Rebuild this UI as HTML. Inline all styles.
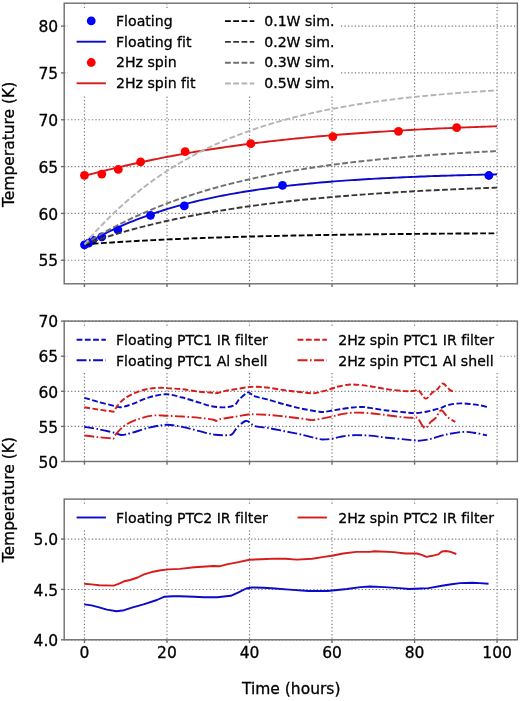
<!DOCTYPE html>
<html><head><meta charset="utf-8"><title>Temperature vs time</title>
<style>html,body{margin:0;padding:0;background:#fff;}svg{display:block;}</style>
</head><body>
<svg width="520" height="701" viewBox="0 0 520 701" font-family="'DejaVu Sans', 'Liberation Sans', sans-serif">
<style>text{fill:#000;stroke:#000;stroke-width:0.3px;font-variant-ligatures:none;font-feature-settings:"liga" 0;}</style>
<rect width="520" height="701" fill="#ffffff"/>
<line x1="84.46" y1="3.2" x2="84.46" y2="283.8" stroke="#7a7a7a" stroke-width="1.15" stroke-dasharray="1.25 2.21"/>
<line x1="166.99" y1="3.2" x2="166.99" y2="283.8" stroke="#7a7a7a" stroke-width="1.15" stroke-dasharray="1.25 2.21"/>
<line x1="249.52" y1="3.2" x2="249.52" y2="283.8" stroke="#7a7a7a" stroke-width="1.15" stroke-dasharray="1.25 2.21"/>
<line x1="332.04" y1="3.2" x2="332.04" y2="283.8" stroke="#7a7a7a" stroke-width="1.15" stroke-dasharray="1.25 2.21"/>
<line x1="414.57" y1="3.2" x2="414.57" y2="283.8" stroke="#7a7a7a" stroke-width="1.15" stroke-dasharray="1.25 2.21"/>
<line x1="497.1" y1="3.2" x2="497.1" y2="283.8" stroke="#7a7a7a" stroke-width="1.15" stroke-dasharray="1.25 2.21"/>
<line x1="64.2" y1="260.27" x2="517.4" y2="260.27" stroke="#7a7a7a" stroke-width="1.15" stroke-dasharray="1.25 2.21"/>
<line x1="64.2" y1="213.43" x2="517.4" y2="213.43" stroke="#7a7a7a" stroke-width="1.15" stroke-dasharray="1.25 2.21"/>
<line x1="64.2" y1="166.6" x2="517.4" y2="166.6" stroke="#7a7a7a" stroke-width="1.15" stroke-dasharray="1.25 2.21"/>
<line x1="64.2" y1="119.76" x2="517.4" y2="119.76" stroke="#7a7a7a" stroke-width="1.15" stroke-dasharray="1.25 2.21"/>
<line x1="64.2" y1="72.92" x2="517.4" y2="72.92" stroke="#7a7a7a" stroke-width="1.15" stroke-dasharray="1.25 2.21"/>
<line x1="64.2" y1="26.09" x2="517.4" y2="26.09" stroke="#7a7a7a" stroke-width="1.15" stroke-dasharray="1.25 2.21"/>
<path d="M84.46,244.8 L87.93,242.77 L91.4,240.81 L94.86,238.89 L98.33,237.03 L101.8,235.22 L105.27,233.46 L108.73,231.75 L112.2,230.09 L115.67,228.47 L119.14,226.9 L122.6,225.37 L126.07,223.88 L129.54,222.44 L133.01,221.03 L136.47,219.67 L139.94,218.34 L143.41,217.05 L146.88,215.79 L150.34,214.57 L153.81,213.38 L157.28,212.23 L160.75,211.11 L164.21,210.02 L167.68,208.96 L171.15,207.93 L174.62,206.92 L178.08,205.95 L181.55,205 L185.02,204.08 L188.49,203.19 L191.95,202.31 L195.42,201.47 L198.89,200.64 L202.36,199.84 L205.82,199.07 L209.29,198.31 L212.76,197.57 L216.23,196.86 L219.69,196.16 L223.16,195.49 L226.63,194.83 L230.1,194.19 L233.57,193.57 L237.03,192.97 L240.5,192.38 L243.97,191.81 L247.44,191.25 L250.9,190.71 L254.37,190.19 L257.84,189.68 L261.31,189.18 L264.77,188.7 L268.24,188.23 L271.71,187.77 L275.18,187.33 L278.64,186.9 L282.11,186.48 L285.58,186.07 L289.05,185.68 L292.51,185.29 L295.98,184.92 L299.45,184.55 L302.92,184.2 L306.38,183.86 L309.85,183.52 L313.32,183.2 L316.79,182.88 L320.25,182.57 L323.72,182.27 L327.19,181.98 L330.66,181.7 L334.12,181.42 L337.59,181.16 L341.06,180.9 L344.53,180.64 L347.99,180.4 L351.46,180.16 L354.93,179.93 L358.4,179.7 L361.87,179.48 L365.33,179.27 L368.8,179.06 L372.27,178.86 L375.74,178.67 L379.2,178.47 L382.67,178.29 L386.14,178.11 L389.61,177.93 L393.07,177.76 L396.54,177.6 L400.01,177.44 L403.48,177.28 L406.94,177.13 L410.41,176.98 L413.88,176.84 L417.35,176.7 L420.81,176.56 L424.28,176.43 L427.75,176.3 L431.22,176.17 L434.68,176.05 L438.15,175.93 L441.62,175.82 L445.09,175.71 L448.55,175.6 L452.02,175.49 L455.49,175.39 L458.96,175.29 L462.42,175.19 L465.89,175.1 L469.36,175.01 L472.83,174.92 L476.29,174.83 L479.76,174.75 L483.23,174.67 L486.7,174.59 L490.16,174.51 L493.63,174.43 L497.1,174.36" fill="none" stroke="#0a0ac8" stroke-width="1.9" stroke-linejoin="round" stroke-linecap="butt"/>
<path d="M84.46,175.7 L87.93,174.87 L91.4,174.01 L94.86,173.14 L98.33,172.26 L101.8,171.39 L105.27,170.53 L108.73,169.68 L112.2,168.83 L115.67,168 L119.14,167.17 L122.6,166.36 L126.07,165.55 L129.54,164.76 L133.01,163.98 L136.47,163.21 L139.94,162.45 L143.41,161.7 L146.88,160.96 L150.34,160.24 L153.81,159.52 L157.28,158.82 L160.75,158.12 L164.21,157.44 L167.68,156.77 L171.15,156.11 L174.62,155.46 L178.08,154.83 L181.55,154.2 L185.02,153.58 L188.49,152.97 L191.95,152.38 L195.42,151.79 L198.89,151.21 L202.36,150.64 L205.82,150.09 L209.29,149.54 L212.76,149 L216.23,148.47 L219.69,147.95 L223.16,147.44 L226.63,146.93 L230.1,146.44 L233.57,145.96 L237.03,145.48 L240.5,145.01 L243.97,144.55 L247.44,144.1 L250.9,143.65 L254.37,143.22 L257.84,142.79 L261.31,142.37 L264.77,141.95 L268.24,141.55 L271.71,141.15 L275.18,140.76 L278.64,140.37 L282.11,140 L285.58,139.62 L289.05,139.26 L292.51,138.9 L295.98,138.55 L299.45,138.21 L302.92,137.87 L306.38,137.54 L309.85,137.21 L313.32,136.89 L316.79,136.57 L320.25,136.26 L323.72,135.96 L327.19,135.66 L330.66,135.37 L334.12,135.08 L337.59,134.8 L341.06,134.53 L344.53,134.26 L347.99,133.99 L351.46,133.73 L354.93,133.47 L358.4,133.22 L361.87,132.97 L365.33,132.73 L368.8,132.49 L372.27,132.26 L375.74,132.03 L379.2,131.8 L382.67,131.58 L386.14,131.37 L389.61,131.15 L393.07,130.94 L396.54,130.74 L400.01,130.54 L403.48,130.34 L406.94,130.15 L410.41,129.96 L413.88,129.77 L417.35,129.59 L420.81,129.41 L424.28,129.23 L427.75,129.06 L431.22,128.89 L434.68,128.72 L438.15,128.56 L441.62,128.4 L445.09,128.24 L448.55,128.09 L452.02,127.94 L455.49,127.79 L458.96,127.64 L462.42,127.5 L465.89,127.36 L469.36,127.22 L472.83,127.09 L476.29,126.96 L479.76,126.83 L483.23,126.7 L486.7,126.58 L490.16,126.45 L493.63,126.33 L497.1,126.21" fill="none" stroke="#d81a1a" stroke-width="1.9" stroke-linejoin="round" stroke-linecap="butt"/>
<circle cx="84.46" cy="244.81" r="4.4" fill="#0000ff"/>
<circle cx="88.59" cy="243.22" r="4.4" fill="#0000ff"/>
<circle cx="92.71" cy="240.13" r="4.4" fill="#0000ff"/>
<circle cx="101.79" cy="236.85" r="4.4" fill="#0000ff"/>
<circle cx="117.88" cy="229.82" r="4.4" fill="#0000ff"/>
<circle cx="150.48" cy="215.3" r="4.4" fill="#0000ff"/>
<circle cx="184.32" cy="205.94" r="4.4" fill="#0000ff"/>
<circle cx="282.53" cy="185.33" r="4.4" fill="#0000ff"/>
<circle cx="488.85" cy="175.49" r="4.4" fill="#0000ff"/>
<circle cx="84.46" cy="175.31" r="4.4" fill="#ff0000"/>
<circle cx="101.79" cy="174.09" r="4.4" fill="#ff0000"/>
<circle cx="118.3" cy="169.41" r="4.4" fill="#ff0000"/>
<circle cx="140.58" cy="161.91" r="4.4" fill="#ff0000"/>
<circle cx="185.14" cy="151.61" r="4.4" fill="#ff0000"/>
<circle cx="250.75" cy="143.65" r="4.4" fill="#ff0000"/>
<circle cx="332.87" cy="136.62" r="4.4" fill="#ff0000"/>
<circle cx="398.48" cy="131.28" r="4.4" fill="#ff0000"/>
<circle cx="456.66" cy="127.72" r="4.4" fill="#ff0000"/>
<path d="M84.46,244.4 L87.93,244.13 L91.4,243.87 L94.86,243.62 L98.33,243.37 L101.8,243.13 L105.27,242.89 L108.73,242.66 L112.2,242.43 L115.67,242.21 L119.14,242 L122.6,241.78 L126.07,241.58 L129.54,241.37 L133.01,241.18 L136.47,240.98 L139.94,240.79 L143.41,240.61 L146.88,240.43 L150.34,240.25 L153.81,240.08 L157.28,239.91 L160.75,239.74 L164.21,239.58 L167.68,239.42 L171.15,239.27 L174.62,239.12 L178.08,238.97 L181.55,238.83 L185.02,238.69 L188.49,238.55 L191.95,238.41 L195.42,238.28 L198.89,238.15 L202.36,238.03 L205.82,237.9 L209.29,237.78 L212.76,237.66 L216.23,237.55 L219.69,237.44 L223.16,237.33 L226.63,237.22 L230.1,237.11 L233.57,237.01 L237.03,236.91 L240.5,236.81 L243.97,236.72 L247.44,236.62 L250.9,236.53 L254.37,236.44 L257.84,236.35 L261.31,236.27 L264.77,236.18 L268.24,236.1 L271.71,236.02 L275.18,235.94 L278.64,235.87 L282.11,235.79 L285.58,235.72 L289.05,235.65 L292.51,235.57 L295.98,235.51 L299.45,235.44 L302.92,235.37 L306.38,235.31 L309.85,235.25 L313.32,235.19 L316.79,235.13 L320.25,235.07 L323.72,235.01 L327.19,234.95 L330.66,234.9 L334.12,234.85 L337.59,234.79 L341.06,234.74 L344.53,234.69 L347.99,234.64 L351.46,234.6 L354.93,234.55 L358.4,234.5 L361.87,234.46 L365.33,234.42 L368.8,234.37 L372.27,234.33 L375.74,234.29 L379.2,234.25 L382.67,234.21 L386.14,234.17 L389.61,234.14 L393.07,234.1 L396.54,234.06 L400.01,234.03 L403.48,233.99 L406.94,233.96 L410.41,233.93 L413.88,233.9 L417.35,233.87 L420.81,233.84 L424.28,233.81 L427.75,233.78 L431.22,233.75 L434.68,233.72 L438.15,233.69 L441.62,233.67 L445.09,233.64 L448.55,233.62 L452.02,233.59 L455.49,233.57 L458.96,233.54 L462.42,233.52 L465.89,233.5 L469.36,233.47 L472.83,233.45 L476.29,233.43 L479.76,233.41 L483.23,233.39 L486.7,233.37 L490.16,233.35 L493.63,233.33 L497.1,233.31" fill="none" stroke="#000000" stroke-width="1.9" stroke-dasharray="5.8 2.45" stroke-linejoin="round" stroke-linecap="butt"/>
<path d="M84.46,244.37 L87.93,243.15 L91.4,241.95 L94.86,240.78 L98.33,239.63 L101.8,238.5 L105.27,237.39 L108.73,236.31 L112.2,235.24 L115.67,234.2 L119.14,233.18 L122.6,232.17 L126.07,231.19 L129.54,230.22 L133.01,229.28 L136.47,228.35 L139.94,227.44 L143.41,226.55 L146.88,225.67 L150.34,224.82 L153.81,223.98 L157.28,223.15 L160.75,222.34 L164.21,221.55 L167.68,220.77 L171.15,220.01 L174.62,219.26 L178.08,218.53 L181.55,217.81 L185.02,217.11 L188.49,216.42 L191.95,215.74 L195.42,215.08 L198.89,214.42 L202.36,213.79 L205.82,213.16 L209.29,212.54 L212.76,211.94 L216.23,211.35 L219.69,210.77 L223.16,210.21 L226.63,209.65 L230.1,209.1 L233.57,208.57 L237.03,208.04 L240.5,207.53 L243.97,207.02 L247.44,206.53 L250.9,206.04 L254.37,205.57 L257.84,205.1 L261.31,204.64 L264.77,204.19 L268.24,203.75 L271.71,203.32 L275.18,202.9 L278.64,202.49 L282.11,202.08 L285.58,201.68 L289.05,201.29 L292.51,200.91 L295.98,200.53 L299.45,200.16 L302.92,199.8 L306.38,199.44 L309.85,199.1 L313.32,198.76 L316.79,198.42 L320.25,198.09 L323.72,197.77 L327.19,197.46 L330.66,197.15 L334.12,196.85 L337.59,196.55 L341.06,196.26 L344.53,195.97 L347.99,195.69 L351.46,195.42 L354.93,195.15 L358.4,194.88 L361.87,194.63 L365.33,194.37 L368.8,194.12 L372.27,193.88 L375.74,193.64 L379.2,193.4 L382.67,193.17 L386.14,192.95 L389.61,192.73 L393.07,192.51 L396.54,192.3 L400.01,192.09 L403.48,191.88 L406.94,191.68 L410.41,191.49 L413.88,191.29 L417.35,191.1 L420.81,190.92 L424.28,190.74 L427.75,190.56 L431.22,190.38 L434.68,190.21 L438.15,190.04 L441.62,189.88 L445.09,189.72 L448.55,189.56 L452.02,189.4 L455.49,189.25 L458.96,189.1 L462.42,188.96 L465.89,188.81 L469.36,188.67 L472.83,188.53 L476.29,188.4 L479.76,188.26 L483.23,188.13 L486.7,188.01 L490.16,187.88 L493.63,187.76 L497.1,187.64" fill="none" stroke="#363636" stroke-width="1.9" stroke-dasharray="5.8 2.45" stroke-linejoin="round" stroke-linecap="butt"/>
<path d="M84.46,244.15 L87.93,241.99 L91.4,239.87 L94.86,237.79 L98.33,235.76 L101.8,233.78 L105.27,231.83 L108.73,229.93 L112.2,228.07 L115.67,226.25 L119.14,224.47 L122.6,222.73 L126.07,221.02 L129.54,219.35 L133.01,217.72 L136.47,216.12 L139.94,214.56 L143.41,213.03 L146.88,211.54 L150.34,210.07 L153.81,208.64 L157.28,207.24 L160.75,205.87 L164.21,204.52 L167.68,203.21 L171.15,201.93 L174.62,200.67 L178.08,199.44 L181.55,198.24 L185.02,197.06 L188.49,195.91 L191.95,194.78 L195.42,193.68 L198.89,192.6 L202.36,191.54 L205.82,190.51 L209.29,189.5 L212.76,188.51 L216.23,187.54 L219.69,186.59 L223.16,185.67 L226.63,184.76 L230.1,183.87 L233.57,183 L237.03,182.15 L240.5,181.32 L243.97,180.51 L247.44,179.72 L250.9,178.94 L254.37,178.17 L257.84,177.43 L261.31,176.7 L264.77,175.99 L268.24,175.29 L271.71,174.61 L275.18,173.94 L278.64,173.28 L282.11,172.64 L285.58,172.02 L289.05,171.4 L292.51,170.8 L295.98,170.22 L299.45,169.64 L302.92,169.08 L306.38,168.53 L309.85,168 L313.32,167.47 L316.79,166.96 L320.25,166.45 L323.72,165.96 L327.19,165.48 L330.66,165.01 L334.12,164.54 L337.59,164.09 L341.06,163.65 L344.53,163.22 L347.99,162.79 L351.46,162.38 L354.93,161.98 L358.4,161.58 L361.87,161.19 L365.33,160.81 L368.8,160.44 L372.27,160.08 L375.74,159.72 L379.2,159.37 L382.67,159.03 L386.14,158.7 L389.61,158.38 L393.07,158.06 L396.54,157.74 L400.01,157.44 L403.48,157.14 L406.94,156.85 L410.41,156.56 L413.88,156.28 L417.35,156.01 L420.81,155.74 L424.28,155.48 L427.75,155.22 L431.22,154.97 L434.68,154.73 L438.15,154.49 L441.62,154.25 L445.09,154.02 L448.55,153.8 L452.02,153.58 L455.49,153.36 L458.96,153.15 L462.42,152.94 L465.89,152.74 L469.36,152.55 L472.83,152.35 L476.29,152.16 L479.76,151.98 L483.23,151.8 L486.7,151.62 L490.16,151.45 L493.63,151.28 L497.1,151.11" fill="none" stroke="#707070" stroke-width="1.9" stroke-dasharray="5.8 2.45" stroke-linejoin="round" stroke-linecap="butt"/>
<path d="M84.46,244.34 L87.93,240.28 L91.4,236.33 L94.86,232.47 L98.33,228.71 L101.8,225.04 L105.27,221.47 L108.73,217.99 L112.2,214.59 L115.67,211.28 L119.14,208.05 L122.6,204.9 L126.07,201.83 L129.54,198.84 L133.01,195.92 L136.47,193.08 L139.94,190.31 L143.41,187.6 L146.88,184.97 L150.34,182.4 L153.81,179.89 L157.28,177.45 L160.75,175.07 L164.21,172.75 L167.68,170.49 L171.15,168.28 L174.62,166.13 L178.08,164.03 L181.55,161.99 L185.02,160 L188.49,158.05 L191.95,156.16 L195.42,154.31 L198.89,152.51 L202.36,150.76 L205.82,149.04 L209.29,147.38 L212.76,145.75 L216.23,144.16 L219.69,142.62 L223.16,141.11 L226.63,139.64 L230.1,138.21 L233.57,136.81 L237.03,135.45 L240.5,134.12 L243.97,132.83 L247.44,131.56 L250.9,130.33 L254.37,129.13 L257.84,127.96 L261.31,126.82 L264.77,125.71 L268.24,124.63 L271.71,123.57 L275.18,122.54 L278.64,121.54 L282.11,120.56 L285.58,119.61 L289.05,118.67 L292.51,117.77 L295.98,116.88 L299.45,116.02 L302.92,115.18 L306.38,114.36 L309.85,113.56 L313.32,112.78 L316.79,112.02 L320.25,111.28 L323.72,110.56 L327.19,109.86 L330.66,109.17 L334.12,108.5 L337.59,107.85 L341.06,107.21 L344.53,106.59 L347.99,105.99 L351.46,105.4 L354.93,104.83 L358.4,104.27 L361.87,103.72 L365.33,103.19 L368.8,102.67 L372.27,102.16 L375.74,101.67 L379.2,101.19 L382.67,100.72 L386.14,100.26 L389.61,99.82 L393.07,99.38 L396.54,98.96 L400.01,98.55 L403.48,98.14 L406.94,97.75 L410.41,97.37 L413.88,97 L417.35,96.63 L420.81,96.28 L424.28,95.93 L427.75,95.59 L431.22,95.27 L434.68,94.95 L438.15,94.63 L441.62,94.33 L445.09,94.03 L448.55,93.74 L452.02,93.46 L455.49,93.19 L458.96,92.92 L462.42,92.66 L465.89,92.4 L469.36,92.15 L472.83,91.91 L476.29,91.67 L479.76,91.44 L483.23,91.22 L486.7,91 L490.16,90.79 L493.63,90.58 L497.1,90.38" fill="none" stroke="#b4b4b4" stroke-width="1.9" stroke-dasharray="5.8 2.45" stroke-linejoin="round" stroke-linecap="butt"/>
<rect x="68" y="9" width="272" height="87" fill="#fff"/>
<circle cx="91.25" cy="20.9" r="4.4" fill="#0000ff"/>
<path d="M76.6,41.7 L105.9,41.7" fill="none" stroke="#0a0ac8" stroke-width="1.9" stroke-linejoin="round" stroke-linecap="butt"/>
<circle cx="91.25" cy="62.5" r="4.4" fill="#ff0000"/>
<path d="M76.6,83.3 L105.9,83.3" fill="none" stroke="#d81a1a" stroke-width="1.9" stroke-linejoin="round" stroke-linecap="butt"/>
<text x="116.0" y="25.7" font-size="14.1">Floating</text>
<text x="116.0" y="46.5" font-size="14.1">Floating fit</text>
<text x="116.0" y="67.3" font-size="14.1">2Hz spin</text>
<text x="116.0" y="88.1" font-size="14.1">2Hz spin fit</text>
<path d="M225,21.1 L254.3,21.1" fill="none" stroke="#000000" stroke-width="1.9" stroke-dasharray="5.8 2.45" stroke-linejoin="round" stroke-linecap="butt"/>
<text x="264.2" y="25.7" font-size="14.1">0.1W sim.</text>
<path d="M225,41.9 L254.3,41.9" fill="none" stroke="#363636" stroke-width="1.9" stroke-dasharray="5.8 2.45" stroke-linejoin="round" stroke-linecap="butt"/>
<text x="264.2" y="46.5" font-size="14.1">0.2W sim.</text>
<path d="M225,62.7 L254.3,62.7" fill="none" stroke="#707070" stroke-width="1.9" stroke-dasharray="5.8 2.45" stroke-linejoin="round" stroke-linecap="butt"/>
<text x="264.2" y="67.3" font-size="14.1">0.3W sim.</text>
<path d="M225,83.5 L254.3,83.5" fill="none" stroke="#b4b4b4" stroke-width="1.9" stroke-dasharray="5.8 2.45" stroke-linejoin="round" stroke-linecap="butt"/>
<text x="264.2" y="88.1" font-size="14.1">0.5W sim.</text>
<rect x="64.2" y="3.2" width="453.2" height="280.6" fill="none" stroke="#6e6e6e" stroke-width="1.4"/>
<line x1="61.0" y1="260.27" x2="64.2" y2="260.27" stroke="#6e6e6e" stroke-width="1.4"/>
<text x="58.2" y="266.47" text-anchor="end" font-size="15.5">55</text>
<line x1="61.0" y1="213.43" x2="64.2" y2="213.43" stroke="#6e6e6e" stroke-width="1.4"/>
<text x="58.2" y="219.63" text-anchor="end" font-size="15.5">60</text>
<line x1="61.0" y1="166.6" x2="64.2" y2="166.6" stroke="#6e6e6e" stroke-width="1.4"/>
<text x="58.2" y="172.8" text-anchor="end" font-size="15.5">65</text>
<line x1="61.0" y1="119.76" x2="64.2" y2="119.76" stroke="#6e6e6e" stroke-width="1.4"/>
<text x="58.2" y="125.96" text-anchor="end" font-size="15.5">70</text>
<line x1="61.0" y1="72.92" x2="64.2" y2="72.92" stroke="#6e6e6e" stroke-width="1.4"/>
<text x="58.2" y="79.12" text-anchor="end" font-size="15.5">75</text>
<line x1="61.0" y1="26.09" x2="64.2" y2="26.09" stroke="#6e6e6e" stroke-width="1.4"/>
<text x="58.2" y="32.29" text-anchor="end" font-size="15.5">80</text>
<line x1="84.46" y1="283.8" x2="84.46" y2="287" stroke="#6e6e6e" stroke-width="1.4"/>
<line x1="166.99" y1="283.8" x2="166.99" y2="287" stroke="#6e6e6e" stroke-width="1.4"/>
<line x1="249.52" y1="283.8" x2="249.52" y2="287" stroke="#6e6e6e" stroke-width="1.4"/>
<line x1="332.04" y1="283.8" x2="332.04" y2="287" stroke="#6e6e6e" stroke-width="1.4"/>
<line x1="414.57" y1="283.8" x2="414.57" y2="287" stroke="#6e6e6e" stroke-width="1.4"/>
<line x1="497.1" y1="283.8" x2="497.1" y2="287" stroke="#6e6e6e" stroke-width="1.4"/>
<line x1="84.46" y1="321.1" x2="84.46" y2="461.5" stroke="#7a7a7a" stroke-width="1.15" stroke-dasharray="1.25 2.21"/>
<line x1="166.99" y1="321.1" x2="166.99" y2="461.5" stroke="#7a7a7a" stroke-width="1.15" stroke-dasharray="1.25 2.21"/>
<line x1="249.52" y1="321.1" x2="249.52" y2="461.5" stroke="#7a7a7a" stroke-width="1.15" stroke-dasharray="1.25 2.21"/>
<line x1="332.04" y1="321.1" x2="332.04" y2="461.5" stroke="#7a7a7a" stroke-width="1.15" stroke-dasharray="1.25 2.21"/>
<line x1="414.57" y1="321.1" x2="414.57" y2="461.5" stroke="#7a7a7a" stroke-width="1.15" stroke-dasharray="1.25 2.21"/>
<line x1="497.1" y1="321.1" x2="497.1" y2="461.5" stroke="#7a7a7a" stroke-width="1.15" stroke-dasharray="1.25 2.21"/>
<line x1="64.2" y1="461.5" x2="517.4" y2="461.5" stroke="#7a7a7a" stroke-width="1.15" stroke-dasharray="1.25 2.21"/>
<line x1="64.2" y1="426.4" x2="517.4" y2="426.4" stroke="#7a7a7a" stroke-width="1.15" stroke-dasharray="1.25 2.21"/>
<line x1="64.2" y1="391.3" x2="517.4" y2="391.3" stroke="#7a7a7a" stroke-width="1.15" stroke-dasharray="1.25 2.21"/>
<line x1="64.2" y1="356.2" x2="517.4" y2="356.2" stroke="#7a7a7a" stroke-width="1.15" stroke-dasharray="1.25 2.21"/>
<line x1="64.2" y1="321.1" x2="517.4" y2="321.1" stroke="#7a7a7a" stroke-width="1.15" stroke-dasharray="1.25 2.21"/>
<path d="M84.3,397.8 C86.47,398.43 92.25,400.23 97.3,401.6 C102.35,402.97 110.65,405.07 114.6,406 C118.55,406.93 118.12,407.5 121,407.2 C123.88,406.9 127.2,405.85 131.9,404.2 C136.6,402.55 143.43,398.95 149.2,397.3 C154.97,395.65 160.98,394.27 166.5,394.3 C172.02,394.33 176.78,396.1 182.3,397.5 C187.82,398.9 194.7,401.25 199.6,402.7 C204.5,404.15 207.67,405.42 211.7,406.2 C215.73,406.98 220.05,407.55 223.8,407.4 C227.55,407.25 231.6,406.67 234.2,405.3 C236.8,403.93 237.23,401.32 239.4,399.2 C241.57,397.08 245.35,393.53 247.2,392.6 C249.05,391.67 249.2,392.97 250.5,393.6 C251.8,394.23 252.2,395.43 255,396.4 C257.8,397.37 262.37,398.07 267.3,399.4 C272.23,400.73 278.83,402.85 284.6,404.4 C290.37,405.95 296.13,407.48 301.9,408.7 C307.67,409.92 315.52,411.17 319.2,411.7 C322.88,412.23 321.83,412.1 324,411.9 C326.17,411.7 329.53,410.93 332.2,410.5 C334.87,410.07 336.65,409.8 340,409.3 C343.35,408.8 348.52,407.88 352.3,407.5 C356.08,407.12 359.82,406.93 362.7,407 C365.58,407.07 365.57,407.32 369.6,407.9 C373.63,408.48 381.13,409.78 386.9,410.5 C392.67,411.22 399.58,411.77 404.2,412.2 C408.82,412.63 410.75,413.22 414.6,413.1 C418.45,412.98 423.17,412.28 427.3,411.5 C431.43,410.72 435.93,409.48 439.4,408.4 C442.87,407.32 444.63,405.83 448.1,405 C451.57,404.17 456.17,403.52 460.2,403.4 C464.23,403.28 468.83,403.95 472.3,404.3 C475.77,404.65 478.4,405.02 481,405.5 C483.6,405.98 486.75,406.92 487.9,407.2" fill="none" stroke="#0a0ac8" stroke-width="1.9" stroke-dasharray="5.8 2.45" stroke-linejoin="round"/>
<path d="M84.3,426.7 C86.47,427.08 92.25,427.98 97.3,429 C102.35,430.02 110.57,431.8 114.6,432.8 C118.63,433.8 118.62,435 121.5,435 C124.38,435 127.28,434.03 131.9,432.8 C136.52,431.57 143.43,428.93 149.2,427.6 C154.97,426.27 160.98,424.92 166.5,424.8 C172.02,424.68 176.78,425.83 182.3,426.9 C187.82,427.97 194.12,429.9 199.6,431.2 C205.08,432.5 210.3,434.03 215.2,434.7 C220.1,435.37 226.12,435.35 229,435.2 C231.88,435.05 231.05,435.18 232.5,433.8 C233.95,432.42 235.53,429.03 237.7,426.9 C239.87,424.77 243.48,421.72 245.5,421 C247.52,420.28 248.22,421.73 249.8,422.6 C251.38,423.47 252.08,425.33 255,426.2 C257.92,427.07 262.37,426.97 267.3,427.8 C272.23,428.63 278.83,430.05 284.6,431.2 C290.37,432.35 296.13,433.4 301.9,434.7 C307.67,436 315.45,438.22 319.2,439 C322.95,439.78 322.23,439.45 324.4,439.4 C326.57,439.35 329.6,439.12 332.2,438.7 C334.8,438.28 336.65,437.48 340,436.9 C343.35,436.32 347.37,435.42 352.3,435.2 C357.23,434.98 363.83,435.18 369.6,435.6 C375.37,436.02 381.13,437.07 386.9,437.7 C392.67,438.33 399.58,438.95 404.2,439.4 C408.82,439.85 411.9,440.2 414.6,440.4 C417.3,440.6 417.7,440.85 420.4,440.6 C423.1,440.35 426.77,439.85 430.8,438.9 C434.83,437.95 439.42,436.05 444.6,434.9 C449.78,433.75 457,432.37 461.9,432 C466.8,431.63 469.82,432.13 474,432.7 C478.18,433.27 484.83,434.95 487,435.4" fill="none" stroke="#0a0ac8" stroke-width="1.9" stroke-dasharray="9.9 2.5 1.6 2.5" stroke-linejoin="round"/>
<path d="M84.3,407.2 C86.47,407.57 92.85,408.72 97.3,409.4 C101.75,410.08 108.18,410.98 111,411.3 C113.82,411.62 113.17,412.18 114.2,411.3 C115.23,410.42 115.4,408.18 117.2,406 C119,403.82 121.68,400.52 125,398.2 C128.32,395.88 133.07,393.68 137.1,392.1 C141.13,390.52 145.17,389.42 149.2,388.7 C153.23,387.98 157.83,387.85 161.3,387.8 C164.77,387.75 166.5,388.17 170,388.4 C173.5,388.63 177.37,388.63 182.3,389.2 C187.23,389.77 194.4,391.2 199.6,391.8 C204.8,392.4 210.77,392.57 213.5,392.8 C216.23,393.03 213.98,393.52 216,393.2 C218.02,392.88 221.98,391.63 225.6,390.9 C229.22,390.17 233.95,389.43 237.7,388.8 C241.45,388.17 245.22,387.43 248.1,387.1 C250.98,386.77 251.8,386.73 255,386.8 C258.2,386.87 262.37,386.93 267.3,387.5 C272.23,388.07 278.83,389.4 284.6,390.2 C290.37,391 297,391.8 301.9,392.3 C306.8,392.8 310.25,393.43 314,393.2 C317.75,392.97 321.37,391.68 324.4,390.9 C327.43,390.12 329.6,389.28 332.2,388.5 C334.8,387.72 336.65,386.87 340,386.2 C343.35,385.53 347.37,384.5 352.3,384.5 C357.23,384.5 363.83,385.42 369.6,386.2 C375.37,386.98 381.13,388.38 386.9,389.2 C392.67,390.02 399.58,390.83 404.2,391.1 C408.82,391.37 412.18,390.92 414.6,390.8 C417.02,390.68 416.87,389.1 418.7,390.4 C420.53,391.7 423.3,398.25 425.6,398.6 C427.9,398.95 430.48,394.1 432.5,392.5 C434.52,390.9 435.97,390.5 437.7,389 C439.43,387.5 440.88,383.35 442.9,383.5 C444.92,383.65 447.73,388.45 449.8,389.9 C451.87,391.35 454.38,391.82 455.3,392.2" fill="none" stroke="#d81a1a" stroke-width="1.9" stroke-dasharray="5.8 2.45" stroke-linejoin="round"/>
<path d="M84.3,435.4 C86.47,435.68 92.85,436.62 97.3,437.1 C101.75,437.58 108.3,438.1 111,438.3 C113.7,438.5 112.62,439.07 113.5,438.3 C114.38,437.53 114.38,435.87 116.3,433.7 C118.22,431.53 121.53,427.67 125,425.3 C128.47,422.93 132.48,421.12 137.1,419.5 C141.72,417.88 147.8,416.22 152.7,415.6 C157.6,414.98 161.57,415.65 166.5,415.8 C171.43,415.95 176.78,416.15 182.3,416.5 C187.82,416.85 194.4,417.37 199.6,417.9 C204.8,418.43 210.77,419.18 213.5,419.7 C216.23,420.22 214.85,421.1 216,421 C217.15,420.9 217.37,419.78 220.4,419.1 C223.43,418.42 229.58,417.67 234.2,416.9 C238.82,416.13 244.63,414.92 248.1,414.5 C251.57,414.08 251.8,414.35 255,414.4 C258.2,414.45 262.37,414.45 267.3,414.8 C272.23,415.15 278.83,415.87 284.6,416.5 C290.37,417.13 297.57,418.02 301.9,418.6 C306.23,419.18 308.28,419.82 310.6,420 C312.92,420.18 312.2,420.28 315.8,419.7 C319.4,419.12 328.17,417.37 332.2,416.5 C336.23,415.63 336.65,415.13 340,414.5 C343.35,413.87 347.37,412.93 352.3,412.7 C357.23,412.47 363.83,412.68 369.6,413.1 C375.37,413.52 381.13,414.48 386.9,415.2 C392.67,415.92 399.58,416.95 404.2,417.4 C408.82,417.85 412.33,417.77 414.6,417.9 C416.87,418.03 416.12,416.52 417.8,418.2 C419.48,419.88 422.53,427.38 424.7,428 C426.87,428.62 428.92,423.63 430.8,421.9 C432.68,420.17 434.27,419.55 436,417.6 C437.73,415.65 439.18,410.2 441.2,410.2 C443.22,410.2 445.75,415.65 448.1,417.6 C450.45,419.55 454.1,421.18 455.3,421.9" fill="none" stroke="#d81a1a" stroke-width="1.9" stroke-dasharray="9.9 2.5 1.6 2.5" stroke-linejoin="round"/>
<rect x="68" y="327.5" width="432" height="45.5" fill="#fff"/>
<path d="M76.6,339.8 L105.9,339.8" fill="none" stroke="#0a0ac8" stroke-width="1.9" stroke-dasharray="5.8 2.45" stroke-linejoin="round" stroke-linecap="butt"/>
<path d="M76.6,360.3 L105.9,360.3" fill="none" stroke="#0a0ac8" stroke-width="1.9" stroke-dasharray="9.9 2.5 1.6 2.5" stroke-linejoin="round" stroke-linecap="butt"/>
<path d="M297.6,339.8 L326.9,339.8" fill="none" stroke="#d81a1a" stroke-width="1.9" stroke-dasharray="5.8 2.45" stroke-linejoin="round" stroke-linecap="butt"/>
<path d="M297.6,360.3 L326.9,360.3" fill="none" stroke="#d81a1a" stroke-width="1.9" stroke-dasharray="9.9 2.5 1.6 2.5" stroke-linejoin="round" stroke-linecap="butt"/>
<text x="116.0" y="345.0" font-size="14.1">Floating PTC1 IR filter</text>
<text x="116.0" y="365.5" font-size="14.1">Floating PTC1 Al shell</text>
<text x="338.2" y="345.0" font-size="14.1">2Hz spin PTC1 IR filter</text>
<text x="338.2" y="365.5" font-size="14.1">2Hz spin PTC1 Al shell</text>
<rect x="64.2" y="321.1" width="453.2" height="140.4" fill="none" stroke="#6e6e6e" stroke-width="1.4"/>
<line x1="61.0" y1="461.5" x2="64.2" y2="461.5" stroke="#6e6e6e" stroke-width="1.4"/>
<text x="58.2" y="467.7" text-anchor="end" font-size="15.5">50</text>
<line x1="61.0" y1="426.4" x2="64.2" y2="426.4" stroke="#6e6e6e" stroke-width="1.4"/>
<text x="58.2" y="432.6" text-anchor="end" font-size="15.5">55</text>
<line x1="61.0" y1="391.3" x2="64.2" y2="391.3" stroke="#6e6e6e" stroke-width="1.4"/>
<text x="58.2" y="397.5" text-anchor="end" font-size="15.5">60</text>
<line x1="61.0" y1="356.2" x2="64.2" y2="356.2" stroke="#6e6e6e" stroke-width="1.4"/>
<text x="58.2" y="362.4" text-anchor="end" font-size="15.5">65</text>
<line x1="61.0" y1="321.1" x2="64.2" y2="321.1" stroke="#6e6e6e" stroke-width="1.4"/>
<text x="58.2" y="327.3" text-anchor="end" font-size="15.5">70</text>
<line x1="84.46" y1="461.5" x2="84.46" y2="464.7" stroke="#6e6e6e" stroke-width="1.4"/>
<line x1="166.99" y1="461.5" x2="166.99" y2="464.7" stroke="#6e6e6e" stroke-width="1.4"/>
<line x1="249.52" y1="461.5" x2="249.52" y2="464.7" stroke="#6e6e6e" stroke-width="1.4"/>
<line x1="332.04" y1="461.5" x2="332.04" y2="464.7" stroke="#6e6e6e" stroke-width="1.4"/>
<line x1="414.57" y1="461.5" x2="414.57" y2="464.7" stroke="#6e6e6e" stroke-width="1.4"/>
<line x1="497.1" y1="461.5" x2="497.1" y2="464.7" stroke="#6e6e6e" stroke-width="1.4"/>
<line x1="84.46" y1="499.1" x2="84.46" y2="639.8" stroke="#7a7a7a" stroke-width="1.15" stroke-dasharray="1.25 2.21"/>
<line x1="166.99" y1="499.1" x2="166.99" y2="639.8" stroke="#7a7a7a" stroke-width="1.15" stroke-dasharray="1.25 2.21"/>
<line x1="249.52" y1="499.1" x2="249.52" y2="639.8" stroke="#7a7a7a" stroke-width="1.15" stroke-dasharray="1.25 2.21"/>
<line x1="332.04" y1="499.1" x2="332.04" y2="639.8" stroke="#7a7a7a" stroke-width="1.15" stroke-dasharray="1.25 2.21"/>
<line x1="414.57" y1="499.1" x2="414.57" y2="639.8" stroke="#7a7a7a" stroke-width="1.15" stroke-dasharray="1.25 2.21"/>
<line x1="497.1" y1="499.1" x2="497.1" y2="639.8" stroke="#7a7a7a" stroke-width="1.15" stroke-dasharray="1.25 2.21"/>
<line x1="64.2" y1="639.8" x2="517.4" y2="639.8" stroke="#7a7a7a" stroke-width="1.15" stroke-dasharray="1.25 2.21"/>
<line x1="64.2" y1="589.45" x2="517.4" y2="589.45" stroke="#7a7a7a" stroke-width="1.15" stroke-dasharray="1.25 2.21"/>
<line x1="64.2" y1="539.1" x2="517.4" y2="539.1" stroke="#7a7a7a" stroke-width="1.15" stroke-dasharray="1.25 2.21"/>
<path d="M84.2,604.4 L91.5,605.4 L99.2,607.3 L106.9,609.6 L116.5,611.2 L124.2,610.2 L131.9,607.7 L143.5,604.4 L156.9,600 L164.6,596.7 L172.3,596.2 L180,596.3 L194.2,596.7 L203.8,597.3 L217.3,597.3 L230.8,595.8 L238.5,592.3 L246.2,588.5 L251.9,587.5 L263.5,587.7 L275,588.5 L289.2,589.6 L308.5,591 L327.7,591 L346.9,589 L360.4,587.1 L370,586.5 L384.2,587.1 L399.6,588.1 L409.2,589 L420.8,588.5 L428.5,588.1 L441.9,585.8 L451.5,584.2 L460,583.1 L472.3,582.8 L480,583.1 L488.5,583.8" fill="none" stroke="#0a0ac8" stroke-width="1.9" stroke-linejoin="round" stroke-linecap="butt"/>
<path d="M84.2,583.8 L91.5,584.4 L99.2,585.2 L113.7,585.6 L118.5,583.8 L124.2,581.3 L130,580 L137.7,577.5 L143.5,574.6 L153.1,571.7 L160.8,570.2 L168.5,569.4 L180,568.9 L194.2,567.3 L213.5,566 L219.2,566.3 L226.9,564.4 L238.5,562.1 L249.4,559.8 L261.5,559.2 L275,558.6 L285.4,558.8 L296.9,559.6 L312.3,558.8 L323.8,556.9 L331.9,555.8 L343.1,553.5 L356.5,551.9 L370,551.9 L374.6,551.2 L393.8,552.1 L405.4,553.5 L416.9,553.5 L421.7,554.8 L426.5,556.9 L432.3,555.8 L438.1,554.4 L441.9,551.5 L445.8,551 L450.6,551.9 L456.3,554" fill="none" stroke="#d81a1a" stroke-width="1.9" stroke-linejoin="round" stroke-linecap="butt"/>
<rect x="68" y="506" width="432" height="24" fill="#fff"/>
<path d="M76.6,517.5 L105.9,517.5" fill="none" stroke="#0a0ac8" stroke-width="1.9" stroke-linejoin="round" stroke-linecap="butt"/>
<path d="M297.6,517.5 L326.9,517.5" fill="none" stroke="#d81a1a" stroke-width="1.9" stroke-linejoin="round" stroke-linecap="butt"/>
<text x="116.0" y="522.6" font-size="14.1">Floating PTC2 IR filter</text>
<text x="338.2" y="522.6" font-size="14.1">2Hz spin PTC2 IR filter</text>
<rect x="64.2" y="499.1" width="453.2" height="140.7" fill="none" stroke="#6e6e6e" stroke-width="1.4"/>
<line x1="61.0" y1="639.8" x2="64.2" y2="639.8" stroke="#6e6e6e" stroke-width="1.4"/>
<text x="58.2" y="646" text-anchor="end" font-size="15.5">4.0</text>
<line x1="61.0" y1="589.45" x2="64.2" y2="589.45" stroke="#6e6e6e" stroke-width="1.4"/>
<text x="58.2" y="595.65" text-anchor="end" font-size="15.5">4.5</text>
<line x1="61.0" y1="539.1" x2="64.2" y2="539.1" stroke="#6e6e6e" stroke-width="1.4"/>
<text x="58.2" y="545.3" text-anchor="end" font-size="15.5">5.0</text>
<line x1="84.46" y1="639.8" x2="84.46" y2="643" stroke="#6e6e6e" stroke-width="1.4"/>
<line x1="166.99" y1="639.8" x2="166.99" y2="643" stroke="#6e6e6e" stroke-width="1.4"/>
<line x1="249.52" y1="639.8" x2="249.52" y2="643" stroke="#6e6e6e" stroke-width="1.4"/>
<line x1="332.04" y1="639.8" x2="332.04" y2="643" stroke="#6e6e6e" stroke-width="1.4"/>
<line x1="414.57" y1="639.8" x2="414.57" y2="643" stroke="#6e6e6e" stroke-width="1.4"/>
<line x1="497.1" y1="639.8" x2="497.1" y2="643" stroke="#6e6e6e" stroke-width="1.4"/>
<text x="84.46" y="657.6" text-anchor="middle" font-size="15.5">0</text>
<text x="166.99" y="657.6" text-anchor="middle" font-size="15.5">20</text>
<text x="249.52" y="657.6" text-anchor="middle" font-size="15.5">40</text>
<text x="332.04" y="657.6" text-anchor="middle" font-size="15.5">60</text>
<text x="414.57" y="657.6" text-anchor="middle" font-size="15.5">80</text>
<text x="497.1" y="657.6" text-anchor="middle" font-size="15.5">100</text>
<text x="291.2" y="694.1" text-anchor="middle" font-size="15.5">Time (hours)</text>
<text transform="translate(14.1,144.4) rotate(-90)" text-anchor="middle" font-size="15.5">Temperature (K)</text>
<text transform="translate(14.1,499.6) rotate(-90)" text-anchor="middle" font-size="15.5">Temperature (K)</text>
</svg>
</body></html>
